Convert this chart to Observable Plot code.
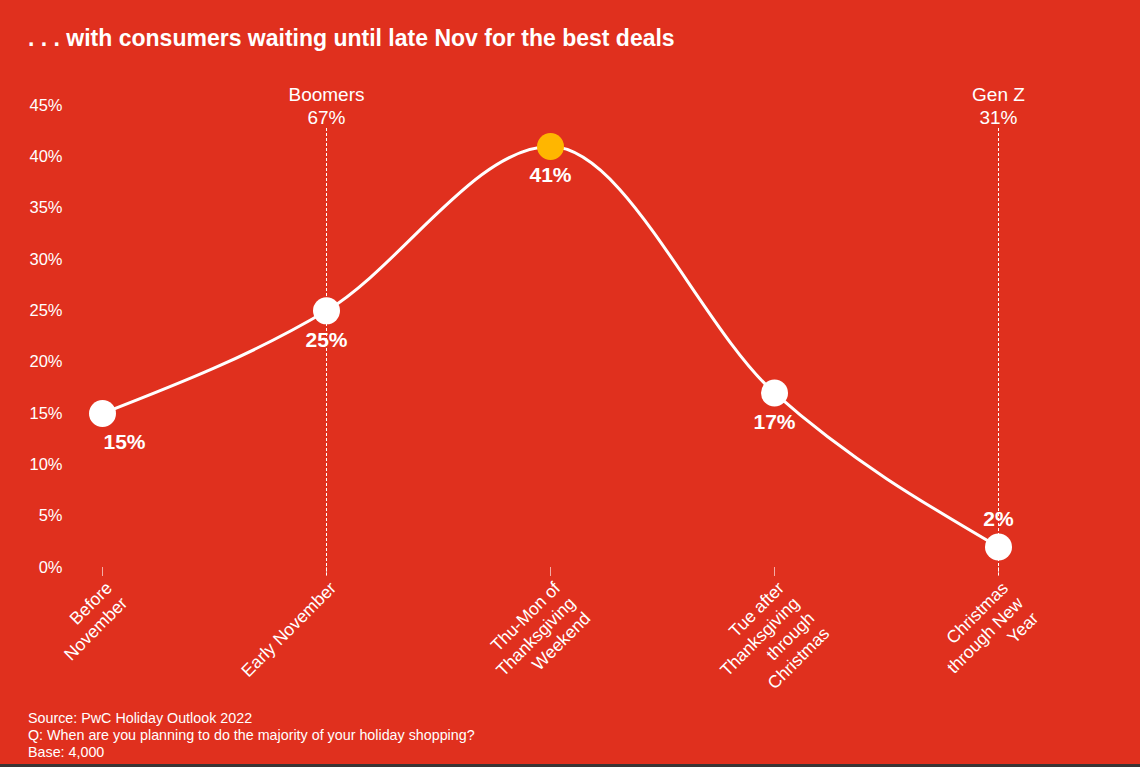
<!DOCTYPE html>
<html>
<head>
<meta charset="utf-8">
<script src="https://cdn.jsdelivr.net/npm/d3@7"></script>
<script src="https://cdn.jsdelivr.net/npm/@observablehq/plot@0.6"></script>
<style>
  html, body { margin: 0; padding: 0; }
  body { width: 1140px; height: 767px; background: #e0301e; position: relative; overflow: hidden;
         font-family: "Liberation Sans", Arial, sans-serif; color: #fff; }
  #title { position: absolute; left: 28px; top: 25px; font-size: 23px; line-height: 26px; font-weight: bold; white-space: nowrap; }
  #chart { position: absolute; left: 0; top: 60px; }
  #caption { position: absolute; left: 28px; top: 710px; font-size: 14.3px; line-height: 17px; }
  #strip { position: absolute; left: 0; bottom: 0; width: 1140px; height: 3px; background: #3a3434; }
</style>
</head>
<body>
<div id="title">. . . with consumers waiting until late Nov for the best deals</div>
<div id="chart"></div>
<div id="caption">Source: PwC Holiday Outlook 2022<br>Q: When are you planning to do the majority of your holiday shopping?<br>Base: 4,000</div>
<div id="strip"></div>
<script>
const categories = [
  "Before November",
  "Early November",
  "Thu-Mon of Thanksgiving Weekend",
  "Tue after Thanksgiving through Christmas",
  "Christmas through New Year"
];
const tickLabels = [
  "Before\nNovember",
  "Early November",
  "Thu-Mon of\nThanksgiving\nWeekend",
  "Tue after\nThanksgiving\nthrough\nChristmas",
  "Christmas\nthrough New\nYear"
];
const shares = [15, 25, 41, 17, 2];
const highlightCategory = "Thu-Mon of Thanksgiving Weekend";
const yTicks = [0, 5, 10, 15, 20, 25, 30, 35, 40, 45];
const annotationCategories = ["Early November", "Christmas through New Year"];
const annotationGroups = ["Boomers", "Gen Z"];
const annotationShares = [67, 31];

const data = categories.map((c, i) => ({category: c, share: shares[i]}));
const annotations = annotationCategories.map((c, i) => ({category: c, group: annotationGroups[i], share: annotationShares[i]}));
const labelOf = new Map(categories.map((c, i) => [c, tickLabels[i]]));

const white = "#ffffff";
const yellow = "#ffb600";
const last = categories[categories.length - 1];
const first = categories[0];

const chart = Plot.plot({
  width: 1140,
  height: 640,
  marginTop: 45,
  marginBottom: 133,
  marginLeft: 101,
  marginRight: 141,
  style: {background: "transparent", color: white, fontFamily: "'Liberation Sans', Arial, sans-serif", fontSize: "16px", overflow: "visible"},
  x: {type: "point", domain: categories, padding: 0, label: null},
  y: {domain: [0, 45], label: null},
  marks: [
    Plot.axisY({ticks: yTicks, tickFormat: d => d + "%", tickSize: 0, tickPadding: 39, fontSize: 16.5, label: null}),
    Plot.axisX({tickRotate: -45, tickSize: 9, tickPadding: 2, stroke: white, strokeOpacity: 0.6,
                fill: white, fontSize: 17.5, lineHeight: 1.22, textAnchor: "end", lineAnchor: "top",
                tickFormat: d => labelOf.get(d), label: null}),
    Plot.ruleX(annotations, {x: "category", stroke: white, strokeWidth: 1, strokeDasharray: "3,2", insetTop: 23, insetBottom: -8}),
    Plot.text(annotations, {x: "category", frameAnchor: "top", lineAnchor: "top", dy: -21, lineHeight: 1.22,
                            text: d => d.group + "\n" + d.share + "%", fill: white, fontSize: 19}),
    Plot.line(data, {x: "category", y: "share", curve: "monotone-x", stroke: white, strokeWidth: 3}),
    Plot.dot(data, {x: "category", y: "share", r: 13.5, fill: d => d.category === highlightCategory ? yellow : white, stroke: null}),
    Plot.text(data.filter(d => d.category === first), {x: "category", y: "share", text: d => d.share + "%", textAnchor: "start", dx: 1, dy: 29, fill: white, fontSize: 21, fontWeight: "bold"}),
    Plot.text(data.filter(d => d.category !== first && d.category !== last), {x: "category", y: "share", text: d => d.share + "%", dy: 29, fill: white, fontSize: 21, fontWeight: "bold"}),
    Plot.text(data.filter(d => d.category === last), {x: "category", y: "share", text: d => d.share + "%", dy: -28, fill: white, fontSize: 21, fontWeight: "bold"})
  ]
});
document.getElementById("chart").appendChild(chart);
</script>
</body>
</html>
